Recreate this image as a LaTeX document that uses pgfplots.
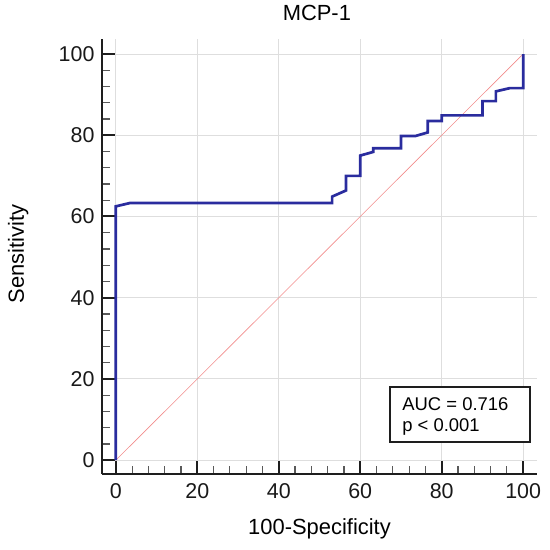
\documentclass[border=0pt]{standalone}
\usepackage{pgfplots}
\pgfplotsset{compat=1.18}
\usepackage{fontspec}
\setmainfont{Liberation Sans}
\definecolor{roc}{RGB}{42,44,158}
\definecolor{diag}{RGB}{242,140,140}
\definecolor{gridc}{RGB}{222,222,222}
\definecolor{axc}{RGB}{30,30,30}
\begin{document}
\begin{tikzpicture}
\begin{axis}[
  scale only axis, width=435bp, height=435bp,
  xmin=-3.4, xmax=103.4, ymin=-3.4, ymax=103.7,
  axis x line=bottom, axis y line=left,
  axis line style={-, line width=2.4bp, color=axc},
  xtick={0,20,...,100}, ytick={0,20,...,100},
  minor tick num=4,
  tick align=inside,
  major tick length=13bp, minor tick length=8bp,
  every major tick/.append style={line width=2bp, color=axc},
  every minor tick/.append style={line width=1.2bp, color=black!65},
  grid=major, grid style={line width=1bp, color=gridc},
  /pgf/number format/assume math mode=true,
  tick label style={font=\fontsize{21.5}{21.5}\selectfont, color=black!90},
  xticklabel style={yshift=-6bp},
  yticklabel style={xshift=-4bp},
  title={MCP-1},
  title style={font=\fontsize{22}{22}\selectfont, at={(axis description cs:0.494,1.0299)}, anchor=base},
  xlabel={100-Specificity},
  xlabel style={font=\fontsize{22}{22}\selectfont, at={(axis description cs:0.5,-0.1402)}, anchor=base},
  ylabel={Sensitivity},
  ylabel style={font=\fontsize{22}{22}\selectfont, at={(axis description cs:-0.1793,0.506)}, anchor=base},
  clip=false,
]
\addplot[diag, line width=0.6bp] coordinates {(0,0) (100,100)};
\addplot[roc, line width=2.7bp, line join=miter] coordinates {
(0,0) (0,62.5) (3.4,63.3) (53.1,63.3) (53.1,64.9) (56.5,66.4) (56.5,70)
(60,70) (60,75) (63.2,75.9) (63.2,76.8) (70,76.8) (70,79.8) (73.5,79.8)
(76.6,80.7) (76.6,83.5) (80,83.5) (80,84.9) (90,84.9) (90,88.4) (93.3,88.4)
(93.3,90.8) (96.7,91.6) (100,91.6) (100,100)
};
\draw[line width=2bp, color=axc, fill=white] (axis cs:67.3,4.4) rectangle (axis cs:101.7,18);
\node[anchor=base west, inner sep=0pt, font=\fontsize{18.5}{18.5}\selectfont] at (axis cs:70.3,12.3) {AUC = 0.716};
\node[anchor=base west, inner sep=0pt, font=\fontsize{18.5}{18.5}\selectfont] at (axis cs:70.3,7.0) {p < 0.001};
\end{axis}
\pgfresetboundingbox
\path (current axis.south west) ++(-102bp,-76bp) rectangle ++(550bp,550bp);
\end{tikzpicture}
\end{document}
